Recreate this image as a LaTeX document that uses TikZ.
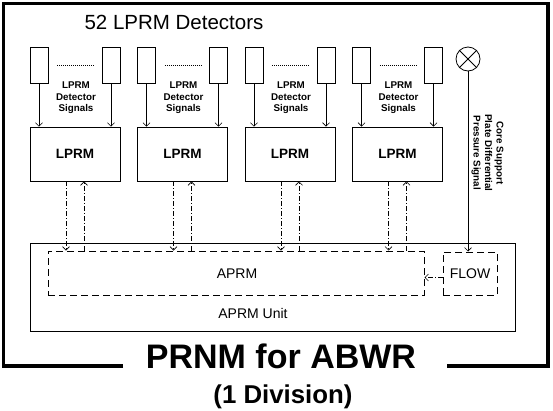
\documentclass[tikz,border=0pt]{standalone}
\usepackage{fontspec}
\setmainfont{Liberation Sans}
\usetikzlibrary{arrows.meta,calc}
\begin{document}
\begin{tikzpicture}[x=1pt,y=-1pt,
  det/.style={draw, line width=0.7pt, minimum width=18pt, minimum height=36pt, inner sep=0pt},
  lprmbox/.style={draw, line width=0.8pt, minimum width=90pt, minimum height=54pt, inner sep=0pt, font=\bfseries\fontsize{13.5}{16}\selectfont},
  unitbox/.style={draw, line width=0.8pt, inner sep=0pt},
  dbox/.style={draw, line width=1pt, dash pattern=on 7pt off 4pt, inner sep=0pt},
  dd/.style={line width=0.6pt, dash pattern=on 5pt off 2pt on 1pt off 2pt},
  sig/.style={line width=0.6pt},
  dots/.style={line width=0.6pt, dash pattern=on 0.8pt off 1.2pt},
  small/.style={font=\bfseries\fontsize{9.8}{11.5}\selectfont, align=center, inner sep=0pt},
  lbl/.style={font=\fontsize{14}{16}\selectfont, inner sep=0pt},
  >={Straight Barb[length=3.5pt,width=7pt]},
]
\useasboundingbox (0,0) rectangle (553,410);

% outer frame with title gap
\draw[line width=3.5pt] (123,366) -- (3.5,366) -- (3.5,3.5) -- (548,3.5) -- (548,366) -- (447,366);

\node[font=\fontsize{20.5}{24}\selectfont, anchor=base, inner sep=0pt] (head) at (174,29) {52 LPRM Detectors};
\node[font=\bfseries\fontsize{34}{38}\selectfont, anchor=base, inner sep=0pt] (title) at (281,368) {PRNM for ABWR};
\node[font=\bfseries\fontsize{25.8}{28}\selectfont, anchor=base, inner sep=0pt] (sub) at (283,403) {(1 Division)};

% APRM unit and inner blocks
\node[unitbox, minimum width=485pt, minimum height=88pt] (unit) at (272.5,287) {};
\node[lbl] (unitlbl) at (253,313) {APRM Unit};
\node[dbox, minimum width=376pt, minimum height=44pt] (aprm) at (236,273) {};
\node[lbl] (aprmlbl) at (237,274) {APRM};
\node[dbox, minimum width=54pt, minimum height=43pt, lbl] (flow) at (470,273.5) {FLOW};

\foreach \i/\L in {1/30,2/137.5,3/245,4/352.5}{
  \node[det] (da\i) at ({\L+9},65) {};
  \node[det] (db\i) at ({\L+81},65) {};
  \draw[dots] ($(da\i.east)+(9,0)$) -- ($(db\i.west)+(-8,0)$);
  \node[small] (sig\i) at ({\L+46},98) {LPRM\\Detector\\Signals};
  \node[lprmbox] (lp\i) at ({\L+45},154) {LPRM};
  \draw[sig,->] (da\i) -- (da\i |- lp\i.north);
  \draw[sig,->] (db\i) -- (db\i |- lp\i.north);
  \coordinate (dn\i) at ($(lp\i.south)+(-9,0)$);
  \coordinate (up\i) at ($(lp\i.south)+(9,0)$);
  \draw[dd,->] (dn\i) -- (dn\i |- aprm.north);
  \draw[dd,->] (up\i |- aprm.north) -- (up\i);
}

% core support plate differential pressure sensor
\node[draw, circle, line width=0.8pt, minimum size=24pt, inner sep=0pt] (sensor) at (468,59) {};
\draw[line width=0.8pt] (sensor.north west) -- (sensor.south east) (sensor.north east) -- (sensor.south west);
\draw[sig,->] (sensor) -- (sensor |- flow.north);
\node[small, rotate=-90] (cs) at (487.5,153) {Core Support\\Plate Differential\\Pressure Signal};

\coordinate (fl) at ($(flow.west)+(0,4)$);
\draw[dd,->] (fl) -- (fl -| aprm.east);
\end{tikzpicture}
\end{document}
